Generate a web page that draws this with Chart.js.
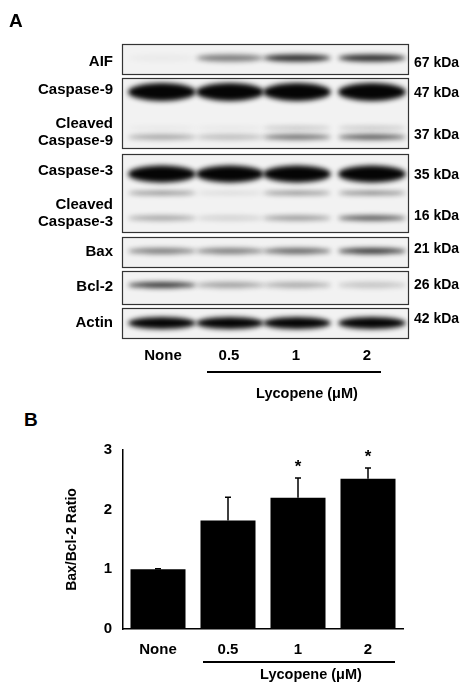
<!DOCTYPE html>
<html>
<head>
<meta charset="utf-8">
<script src="https://cdn.jsdelivr.net/npm/chart.js@4.4.1/dist/chart.umd.min.js"></script>
<style>
body { margin: 0; width: 474px; height: 693px; background: #fff; position: relative; overflow: hidden;
  font-family: "Liberation Sans", Arial, sans-serif; font-weight: bold; color: #000; }
.t { position: absolute; font-size: 14.5px; white-space: nowrap; transform: translateX(-50%); }
.big { font-size: 19px; transform: none; }
#blot { position: absolute; left: 0; top: 0; }
#chartWrap { position: absolute; left: 60px; top: 435px; width: 350px; height: 258px; }
.line { position: absolute; height: 1.5px; background: #000; }
</style>
</head>
<body>
<canvas id="blot" width="474" height="380"></canvas>
<div class="t big" style="left:9px;top:10px">A</div>
<div class="t big" style="left:24px;top:409px">B</div>
<div id="chartWrap"><canvas id="myChart"></canvas></div>
<div class="line" style="left:207px;top:371px;width:174px"></div>
<div class="t" style="left:307px;top:385px">Lycopene (μM)</div>
<div class="line" style="left:203px;top:661px;width:192px"></div>
<div class="t" style="left:311px;top:666px">Lycopene (μM)</div>
<script>
// Panel B data
let groups = ['None', '0.5', '1', '2'];
let ratio = [1.0, 1.82, 2.2, 2.52];
let ratioErr = [0.01, 0.39, 0.33, 0.18];
let signif = [false, false, true, true];
let yTicks = [0, 1, 2, 3];

// Panel A: band intensity per lane (0..1)
let blotRows = [
    { top: 44, h: 30, labels: [['AIF', 62]], kda: [['67 kDa', 63]], bands: [{ y: 58, v: [0.03, 0.5, 0.85, 0.85], th: 7 }] },
    { top: 78, h: 70, labels: [['Caspase-9', 90], ['Cleaved', 124], ['Caspase-9', 141]], kda: [['47 kDa', 93], ['37 kDa', 135]],
      bands: [{ y: 92, v: [1, 1, 1, 1], th: 18 }, { y: 128, v: [0.05, 0.05, 0.2, 0.2], th: 4 }, { y: 137, v: [0.35, 0.25, 0.6, 0.7], th: 5 }] },
    { top: 154, h: 78, labels: [['Caspase-3', 171], ['Cleaved', 205], ['Caspase-3', 222]], kda: [['35 kDa', 175], ['16 kDa', 216]],
      bands: [{ y: 174, v: [1, 1, 1, 1], th: 17 }, { y: 193, v: [0.45, 0.1, 0.45, 0.5], th: 4 }, { y: 218, v: [0.35, 0.15, 0.4, 0.7], th: 5 }] },
    { top: 237, h: 30, labels: [['Bax', 252]], kda: [['21 kDa', 249]], bands: [{ y: 251, v: [0.5, 0.5, 0.6, 0.8], th: 6 }] },
    { top: 271, h: 33, labels: [['Bcl-2', 287]], kda: [['26 kDa', 285]], bands: [{ y: 285, v: [0.8, 0.35, 0.3, 0.2], th: 6 }] },
    { top: 308, h: 30, labels: [['Actin', 323]], kda: [['42 kDa', 319]], bands: [{ y: 323, v: [1, 1, 1, 1], th: 12 }] }
];
let laneX = [162, 230, 297, 372];
let laneLabelX = [163, 229, 296, 367];

let bc = document.getElementById('blot').getContext('2d');
blotRows.forEach(r => {
    bc.fillStyle = '#f2f2f2';
    bc.fillRect(122, r.top, 286, r.h);
    r.bands.forEach(b => {
        b.v.forEach((v, i) => {
            bc.save();
            bc.filter = 'blur(2.5px)';
            bc.fillStyle = 'rgba(5,5,5,' + v + ')';
            bc.beginPath();
            bc.ellipse(laneX[i], b.y, 34, b.th / 2, 0, 0, Math.PI * 2);
            bc.fill();
            bc.restore();
        });
    });
    bc.strokeStyle = '#333';
    bc.lineWidth = 1.2;
    bc.strokeRect(122.5, r.top + 0.5, 286, r.h);
    bc.fillStyle = '#000';
    bc.font = 'bold 15px "Liberation Sans", Arial';
    bc.textBaseline = 'middle';
    bc.textAlign = 'right';
    r.labels.forEach(l => bc.fillText(l[0], 113, l[1]));
    bc.textAlign = 'left';
    bc.font = 'bold 14px "Liberation Sans", Arial';
    r.kda.forEach(k => bc.fillText(k[0], 414, k[1]));
});
bc.textAlign = 'center';
bc.font = 'bold 15px "Liberation Sans", Arial';
groups.forEach((g, i) => bc.fillText(g, laneLabelX[i], 356));

// Panel B chart
const errorBars = {
    id: 'errorBars',
    afterDatasetsDraw(chart) {
        const c = chart.ctx, y = chart.scales.y;
        const meta = chart.getDatasetMeta(0);
        c.save();
        c.strokeStyle = '#000';
        c.lineWidth = 1.5;
        meta.data.forEach((bar, i) => {
            const top = y.getPixelForValue(ratio[i] + ratioErr[i]);
            c.beginPath();
            c.moveTo(bar.x, bar.y);
            c.lineTo(bar.x, top);
            c.moveTo(bar.x - 3, top);
            c.lineTo(bar.x + 3, top);
            c.stroke();
            if (signif[i]) {
                c.fillStyle = '#000';
                c.font = 'bold 17px "Liberation Sans", Arial';
                c.textAlign = 'center';
                c.fillText('*', bar.x, top - 6);
            }
        });
        c.restore();
    }
};

new Chart(document.getElementById('myChart'), {
    type: 'bar',
    data: {
        labels: groups,
        datasets: [{ data: ratio, backgroundColor: '#000', borderWidth: 0, categoryPercentage: 1, barPercentage: 0.786 }]
    },
    options: {
        responsive: true,
        maintainAspectRatio: false,
        animation: false,
        layout: { padding: { top: 12, right: 7, left: 0, bottom: 0 } },
        plugins: { legend: { display: false }, tooltip: { enabled: false } },
        scales: {
            x: {
                grid: { display: false, drawTicks: false },
                border: { color: '#000', width: 1.5 },
                ticks: { color: '#000', padding: 12, font: { family: '"Liberation Sans", Arial', weight: 'bold', size: 15 } },
                afterFit(s) { s.height = 64; }
            },
            y: {
                min: 0, max: 3,
                afterBuildTicks(s) { s.ticks = yTicks.map(v => ({ value: v })); },
                grid: { display: false, drawTicks: true, tickLength: 5, tickColor: '#000' },
                border: { color: '#000', width: 1.5 },
                ticks: { color: '#000', padding: 6, font: { family: '"Liberation Sans", Arial', weight: 'bold', size: 15 } },
                title: { display: true, text: 'Bax/Bcl-2 Ratio', color: '#000', padding: 4, font: { family: '"Liberation Sans", Arial', weight: 'bold', size: 14 } },
                afterFit(s) { s.width = 63; }
            }
        }
    },
    plugins: [errorBars]
});
</script>
</body>
</html>
